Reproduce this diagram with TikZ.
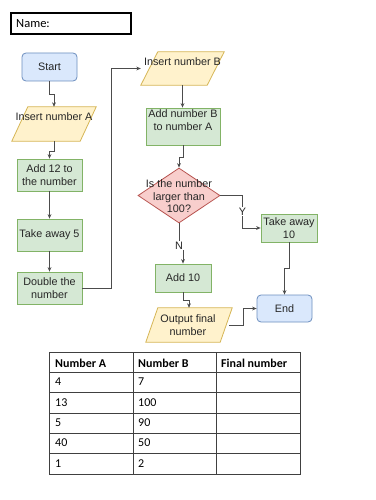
\documentclass[tikz,border=0pt]{standalone}
\usepackage{fontspec}
\setmainfont{Liberation Sans}
\newfontfamily\tabfont{Carlito}
\usetikzlibrary{shapes.geometric,arrows.meta,calc}
\definecolor{bluF}{HTML}{DAE8FC}\definecolor{bluD}{HTML}{6C8EBF}
\definecolor{grnF}{HTML}{D5E8D4}\definecolor{grnD}{HTML}{82B366}
\definecolor{yelF}{HTML}{FFF2CC}\definecolor{yelD}{HTML}{D6B656}
\definecolor{redF}{HTML}{F8CECC}\definecolor{redD}{HTML}{B85450}
\tikzset{
  flow/.style={font=\fontsize{10.8}{12.6}\selectfont, text=black!85, align=center, inner sep=0pt},
  blubox/.style={draw=bluD, fill=bluF, rounded corners=4pt, line width=0.8pt, inner sep=0pt},
  grnbox/.style={draw=grnD, fill=grnF, line width=0.8pt, inner sep=0pt},
  yelbox/.style={draw=yelD, fill=yelF, line width=0.8pt},
  redbox/.style={draw=redD, fill=redF, line width=0.8pt, diamond, inner sep=0pt},
  frame/.style={inner sep=0pt},
  conn/.style={draw=black!70, line width=0.8pt, -{Stealth[length=4.5pt,width=3.8pt]}},
  lbl/.style={flow, fill=white, inner sep=1pt},
  tabtxt/.style={font=\tabfont\fontsize{12}{14}\selectfont, anchor=west, inner sep=0pt},
  tabhead/.style={font=\tabfont\bfseries\fontsize{12}{14}\selectfont, anchor=west, inner sep=0pt},
}
\begin{document}
\begin{tikzpicture}[x=1pt,y=-1pt]
\useasboundingbox (0,0) rectangle (375,500);
\fill[white] (0,0) rectangle (375,500);

% Name box
\node[draw=black, line width=1.6pt, minimum width=120, minimum height=21, inner sep=0pt] (namebox) at (71,23.5) {};
\node[font=\tabfont\fontsize{12.5}{14}\selectfont, anchor=west, inner sep=0pt] (nametxt) at (16,23.5) {Name:};

% Left column
\node[blubox, flow, minimum width=55, minimum height=28] (start) at (49.5,67) {Start};

\node[frame, minimum width=84, minimum height=34] (ia) at (54,124) {};
\path[yelbox] (ia.south west) -- ([xshift=-16]ia.south east) -- (ia.north east) -- ([xshift=16]ia.north west) -- cycle;
\node[flow] (iat) at (54,117) {Insert number A};

\node[grnbox, flow, minimum width=65, minimum height=32] (add12) at (49.5,175) {Add 12 to\\the number};
\node[grnbox, flow, minimum width=65, minimum height=32] (take5) at (49.5,235) {Take away 5};
\node[grnbox, flow, minimum width=65, minimum height=32] (dbl) at (49.5,288) {Double the\\number};

% Middle column
\node[frame, minimum width=83, minimum height=33] (ib) at (182.5,68.5) {};
\path[yelbox] (ib.south west) -- ([xshift=-17]ib.south east) -- (ib.north east) -- ([xshift=17]ib.north west) -- cycle;
\node[flow] (ibt) at (182.5,62) {Insert number B};

\node[grnbox, minimum width=74, minimum height=37] (addb) at (183,126.5) {};
\node[flow] (addbt) at (183,120) {Add number B\\to number A};

\node[redbox, minimum width=82, minimum height=55] (dia) at (179,195.5) {};
\node[flow] (diat) at (179,196.5) {Is the number\\larger than\\100?};

\node[grnbox, flow, minimum width=56, minimum height=28] (add10) at (183,278) {Add 10};

\node[frame, minimum width=86, minimum height=34] (out) at (189,325) {};
\path[yelbox] (out.south west) -- ([xshift=-12]out.south east) -- (out.north east) -- ([xshift=12]out.north west) -- cycle;
\node[flow] (outt) at (188,325) {Output final\\number};

% Right column
\node[grnbox, flow, minimum width=56, minimum height=28] (t10) at (289,228) {Take away\\10};
\node[blubox, flow, minimum width=55, minimum height=27] (end) at (284.5,308.5) {End};

% Connectors
\draw[conn] (start.south) -- ++(0,13) -| (ia.north);
\draw[conn] (ia.south) -- ++(0,10) -| (add12.north);
\draw[conn] (add12.south) -- (take5.north);
\draw[conn] (take5.south) -- (dbl.north);
\draw[conn] (dbl.east) -- ++(29,0) |- (ib.west);
\draw[conn] (ib.south) -- (ib.south |- addb.north);
\draw[conn] (addb.south) -- ++(0,12) -| (dia.north);
\draw[conn] (dia.east) -- ++(22,0) |- node[lbl, pos=0.25] (ylbl) {Y} (t10.west);
\draw[conn] (dia.south) -- ++(0,22) node[lbl] (nlbl) {N} -| (add10.north);
\draw[conn] (add10.south) -- ++(0,8) -| (out.north);
\draw[conn] ([xshift=-3]out.east) -- ++(14,0) |- (end.west);
\draw[conn] (t10.south) -- ++(0,26) -| (end.north);

% Table
\draw[black!75, line width=0.9pt] (49,352) rectangle (300,474);
\foreach \yy in {372,392,413,433,453} \draw[black!75, line width=0.9pt] (49,\yy) -- (300,\yy);
\foreach \xx in {133,216} \draw[black!75, line width=0.9pt] (\xx,352) -- (\xx,474);
\node[tabhead] (h1) at (55,363) {Number A};
\node[tabhead] (h2) at (138,363) {Number B};
\node[tabhead] (h3) at (221,363) {Final number};
\node[tabtxt] (a1) at (55,382) {4};
\node[tabtxt] (b1) at (138,382) {7};
\node[tabtxt] (a2) at (55,402.5) {13};
\node[tabtxt] (b2) at (138,402.5) {100};
\node[tabtxt] (a3) at (55,423) {5};
\node[tabtxt] (b3) at (138,423) {90};
\node[tabtxt] (a4) at (55,443) {40};
\node[tabtxt] (b4) at (138,443) {50};
\node[tabtxt] (a5) at (55,463.5) {1};
\node[tabtxt] (b5) at (138,463.5) {2};
\end{tikzpicture}
\end{document}
